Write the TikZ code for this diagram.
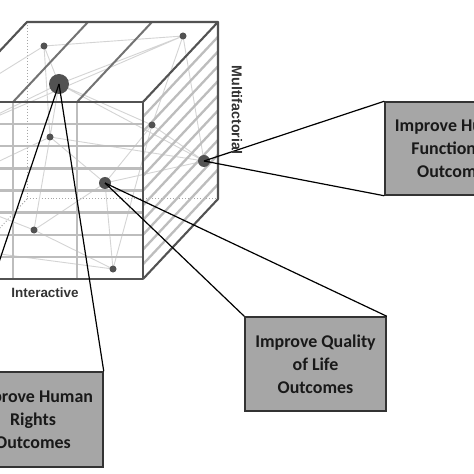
\documentclass[tikz,border=0pt]{standalone}
\usepackage{fontspec}
\setmainfont{Carlito}
\newfontfamily\arialf{Liberation Sans}
\begin{document}
\begin{tikzpicture}[x=1bp,y=-1bp,
  edge/.style={draw=black!68, line width=2.1bp, line join=round},
  hatch/.style={draw=black!26, line width=2.3bp},
  tophatch/.style={draw=black!55, line width=2bp},
  net/.style={draw=black!17, line width=0.9bp},
  hidden/.style={draw=black!35, dotted, line width=1bp},
  dot/.style={circle, fill=black!68, inner sep=0pt, minimum size=7bp},
  bigdot/.style={dot, minimum size=20bp},
  middot/.style={dot, minimum size=12bp},
  conn/.style={draw=black, line width=1.2bp},
  outbox/.style={rectangle, draw=black!80, line width=1.5bp, fill=black!35, minimum width=140bp, minimum height=95bp, align=center, font=\bfseries\fontsize{18}{23}\selectfont, text=black!90},
  axislabel/.style={font=\arialf\bfseries\fontsize{13.5}{16}\selectfont, text=black!80}]
\useasboundingbox (0,0) rectangle (474,474);
\clip (0,0) rectangle (474,474);
\fill[white] (0,0) rectangle (474,474);
% cube corners
\coordinate (ftl) at (-48,102);
\coordinate (ftr) at (143,102);
\coordinate (fbr) at (143,279);
\coordinate (fbl) at (-48,279);
\coordinate (btl) at (27,22);
\coordinate (btr) at (218,22);
\coordinate (bbr) at (218,199);
\coordinate (bbl) at (27,199);
% hidden edges
\draw[hidden] (btl) -- (bbl) -- (bbr);
\draw[hidden] (bbl) -- (fbl);
% dot positions
\coordinate (pA) at (59,84);
\coordinate (pB) at (44,46);
\coordinate (pC) at (183,36);
\coordinate (pD) at (152,125);
\coordinate (pE) at (50,137);
\coordinate (pF) at (204,161);
\coordinate (pG) at (105,183);
\coordinate (pH) at (34,230);
\coordinate (pI) at (113,269);
\coordinate (o1) at (-30,92);
\coordinate (o2) at (-30,128);
\coordinate (o3) at (-30,175);
\coordinate (o4) at (-30,205);
\coordinate (o5) at (-30,250);
% network
\draw[net] (pB) -- (pC) (pB) -- (pA) (pA) -- (pC) (pC) -- (pD) (pC) -- (pF)
  (pA) -- (pD) (pA) -- (pE) (pB) -- (pE) (pD) -- (pF) (pD) -- (pG)
  (pE) -- (pF) (pE) -- (pG) (pG) -- (pF) (pG) -- (pI) (pH) -- (pI)
  (pH) -- (pE) (pH) -- (pG) (pI) -- (pD) (pA) -- (pF)
  (pB) -- (o1) (pA) -- (o2) (pE) -- (o3) (pH) -- (o4) (pI) -- (o5) (pC) -- (o2);
% hatching
\foreach \xx in {13,77} {
  \draw[hatch] (\xx,102) -- (\xx,279);
  \draw[tophatch] (\xx,102) -- (\xx+75,22);
}
\foreach \yy in {124.1,146.2,168.4,190.5,212.6,234.8,256.9}
  \draw[hatch] (-48,\yy) -- (143,\yy);
\foreach \k in {1,...,11}
  \draw[hatch] (143,102+\k*14.75) -- (218,22+\k*14.75);
% cube edges
\draw[edge] (ftl) rectangle (fbr);
\draw[edge] (ftl) -- (btl) -- (btr) -- (ftr);
\draw[edge] (btr) -- (bbr) -- (fbr);
% dots
\node[bigdot] (A) at (pA) {};
\node[dot] (B) at (pB) {};
\node[dot] (C) at (pC) {};
\node[dot] (D) at (pD) {};
\node[dot] (E) at (pE) {};
\node[middot] (F) at (pF) {};
\node[middot] (G) at (pG) {};
\node[dot] (H) at (pH) {};
\node[dot] (I) at (pI) {};
% boxes
\node[outbox] (hr) at (33,419.5) {Improve Human\\Rights\\Outcomes};
\node[outbox, minimum width=141bp, minimum height=94bp] (ql) at (315.5,364) {Improve Quality\\of Life\\Outcomes};
\node[outbox, minimum height=93bp] (hf) at (455,148.5) {Improve Human\\Functioning\\Outcomes};
% connectors
\draw[conn] (A.center) -- (hr.north west);
\draw[conn] (A.center) -- (hr.north east);
\draw[conn] (G.center) -- (ql.north west);
\draw[conn] (G.center) -- (ql.north east);
\draw[conn] (F.center) -- (hf.north west);
\draw[conn] (F.center) -- (hf.south west);
% axis labels
\node[axislabel] (lint) at (45,293) {Interactive};
\node[axislabel, font=\arialf\bfseries\fontsize{14.3}{16}\selectfont, rotate=-90] (lmul) at (237,110) {Multifactorial};
\end{tikzpicture}
\end{document}
